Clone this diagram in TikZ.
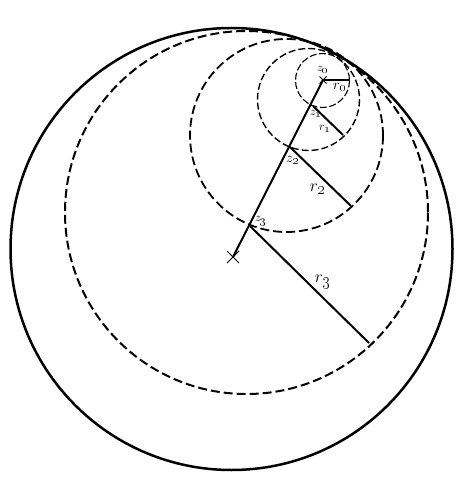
\documentclass[tikz,border=0pt]{standalone}
\usetikzlibrary{calc}
\tikzset{
  solidcirc/.style={line width=2.5pt},
  dashbig/.style={line width=2.0pt, dash pattern=on 9pt off 4pt},
  dashmid/.style={line width=1.8pt, dash pattern=on 9pt off 4pt},
  dashsmall/.style={line width=1.4pt, dash pattern=on 7pt off 3pt},
  dashtiny/.style={line width=1.1pt, dash pattern=on 7pt off 2.5pt},
  radline/.style={line width=2.0pt},
  lab/.style={inner sep=0pt}
}
\newcommand{\osn}[1]{\mbox{\oldstylenums{#1}}}
\begin{document}
\begin{tikzpicture}[x=1pt,y=-1pt]
\useasboundingbox (0,0) rectangle (474,481);
% points
\coordinate (C) at (233,257);
\coordinate (Z0) at (323,80);
\coordinate (Z1) at (313,106);
\coordinate (Z2) at (290,147);
\coordinate (Z3) at (250,226);
\coordinate (R0) at (350,80);
\coordinate (R1) at (343,135);
\coordinate (R2) at (351,206);
\coordinate (R3) at (369,343);
% circles
\draw[solidcirc] (231.5,249) circle (221);
\draw[dashbig] (246.5,212.5) circle (181.5);
\draw[dashmid] (286.5,135.5) circle (96.5);
\draw[dashsmall] (308.5,99.5) circle (51);
\draw[dashtiny] (322.5,80.5) circle (27);
% main line
\draw[radline] (C) -- (Z0);
% radii
\draw[line width=1.5pt] (Z0) -- (R0);
\draw[radline] (Z1) -- (R1);
\draw[radline] (Z2) -- (R2);
\draw[radline] (Z3) -- (R3);
% crosses
\draw[line width=1pt] ($(C)+(-6,-6)$) -- ($(C)+(6,6)$) ($(C)+(-6,6)$) -- ($(C)+(6,-6)$);
\draw[line width=0.8pt] ($(Z0)+(-3.5,-3.5)$) -- ($(Z0)+(3.5,3.5)$) ($(Z0)+(-3.5,3.5)$) -- ($(Z0)+(3.5,-3.5)$);
% labels
\node[lab, font=\fontsize{13}{13}\selectfont] (lz0) at (323,70) {$z_{\osn{0}}$};
\node[lab, font=\fontsize{13.5}{13.5}\selectfont] (lr0) at (340,87) {$r_{\osn{0}}$};
\node[lab, font=\fontsize{12}{12}\selectfont] (lz1) at (316,114) {$z_{\osn{1}}$};
\node[lab, font=\fontsize{12}{12}\selectfont] (lr1) at (325,129) {$r_{\osn{1}}$};
\node[lab, font=\fontsize{13.5}{13.5}\selectfont] (lz2) at (293,160) {$z_{\osn{2}}$};
\node[lab, font=\fontsize{16}{16}\selectfont] (lr2) at (318,189) {$r_{\osn{2}}$};
\node[lab, font=\fontsize{13}{13}\selectfont] (lz3) at (261,221) {$z_{\osn{3}}$};
\node[lab, font=\fontsize{19}{19}\selectfont] (lr3) at (323,282) {$r_{\osn{3}}$};
\end{tikzpicture}
\end{document}
